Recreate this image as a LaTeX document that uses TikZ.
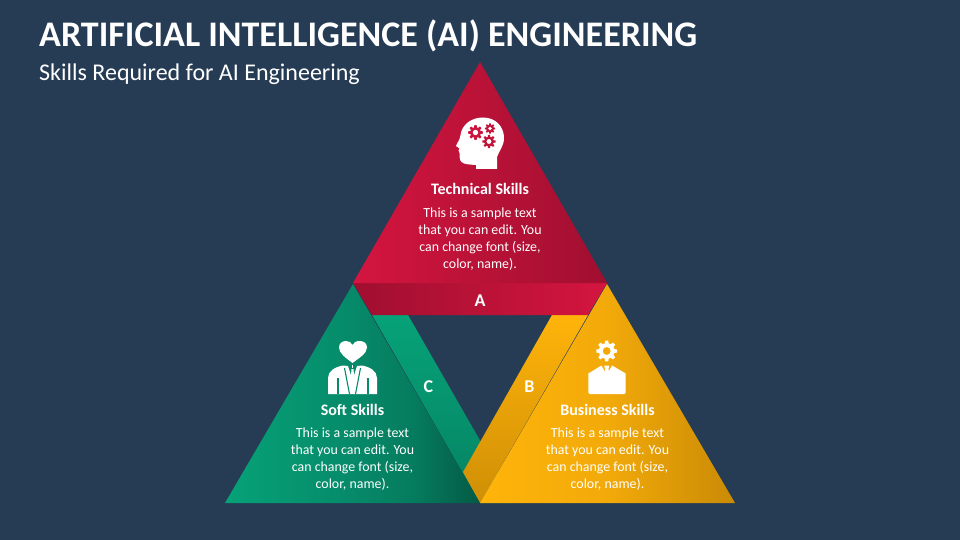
\documentclass[tikz,border=0pt]{standalone}
\usepackage{fontspec}
\setmainfont{Carlito}
\definecolor{bgnavy}{HTML}{263C55}
\definecolor{redhi}{HTML}{D4153F}
\definecolor{redlo}{HTML}{A00F30}
\definecolor{greenhi}{HTML}{06A278}
\definecolor{greenmid}{HTML}{068A69}
\definecolor{greenlo}{HTML}{045A45}
\definecolor{yelhi}{HTML}{FFB40A}
\definecolor{yelmid}{HTML}{F2AA0A}
\definecolor{yello}{HTML}{C98A05}
\pgfdeclarehorizontalshading{greentri}{100bp}{color(0bp)=(greenhi); color(25bp)=(greenhi); color(50bp)=(greenmid); color(62bp)=(greenmid!70!greenlo); color(75bp)=(greenlo); color(100bp)=(greenlo)}
\pgfdeclarehorizontalshading{yellowtri}{100bp}{color(0bp)=(yelhi); color(25bp)=(yelhi); color(50bp)=(yelmid); color(75bp)=(yello); color(100bp)=(yello)}
\tikzset{
  x=1pt,y=-1pt,
  titletext/.style={anchor=base west,inner sep=0pt,text=white,font=\fontsize{36}{40}\selectfont\bfseries},
  subtext/.style={anchor=base west,inner sep=0pt,text=white,font=\fontsize{24}{28}\selectfont},
  headtext/.style={inner sep=0pt,text=white,font=\fontsize{16}{18}\selectfont\bfseries},
  bodytext/.style={inner sep=0pt,text=white,align=center,font=\fontsize{13.9}{17}\selectfont},
  lettertext/.style={inner sep=0pt,text=white,font=\fontsize{18}{20}\selectfont\bfseries},
  gearicon/.pic={
    \fill[pic actions] (0,0) circle[radius=0.76];
    \foreach \a in {0,45,...,315}{
      \fill[pic actions,rotate=\a] (-0.2,-0.62) -- (-0.15,-1) -- (0.15,-1) -- (0.2,-0.62) -- cycle;
    }
  }
}
\begin{document}
\begin{tikzpicture}
\useasboundingbox (0,0) rectangle (960,540);
\fill[bgnavy] (0,0) rectangle (960,540);
% back strips
\path[top color=greenhi,bottom color=greenmid!85!greenlo] (372,315) -- (408,315) -- (516,503) -- (480,503) -- cycle;
\path[shading angle=30,top color=yelhi,bottom color=yello!85!yelmid] (552,315) -- (588,315) -- (480,503) -- (463,472) -- cycle;
% triangles
\path[shading=greentri] (353,284) -- (480,503) -- (225,503) -- cycle;
\path[shading=yellowtri] (607,284) -- (735,503) -- (480,503) -- cycle;
\path[left color=redlo,right color=redhi] (353,283) -- (607,283) -- (588,315) -- (372,315) -- cycle;
\path[left color=redhi,right color=redlo] (480,62) -- (607,283) -- (353,283) -- cycle;
% head icon
\fill[white] (497,169) -- (476,169) -- (476,165) .. controls (470,164.5) and (464,164.5) .. (461.5,162) .. controls (459,160) and (460,156) .. (459.5,153) -- (458.5,150.5) -- (459.5,148.5) -- (456,146) .. controls (457,143) and (460,140) .. (460.5,135) .. controls (462,124) and (472,117.5) .. (483,117.5) .. controls (496,117.5) and (504,127) .. (504,138) .. controls (504,146) and (499,151) .. (497,157) -- cycle;
\pic[fill=redhi!85!redlo,scale=7.4] at (475.5,132.5) {gearicon};
\pic[fill=redhi!70!redlo,scale=5.2] at (490,128.5) {gearicon};
\pic[fill=redhi!70!redlo,scale=6.6] at (489,141.5) {gearicon};
\fill[white] (475.5,132.5) circle[radius=2.7] (490,128.5) circle[radius=1.9] (489,141.5) circle[radius=2.4];
% soft skills icon
\fill[white] (352.5,363) .. controls (346,358) and (339,353.5) .. (339,347.5) .. controls (339,343) and (342.5,341) .. (346,341) .. controls (349,341) and (351.5,342.5) .. (352.5,345) .. controls (353.5,342.5) and (356,341) .. (359.5,341) .. controls (363.5,341) and (367,343) .. (367,347.5) .. controls (367,353.5) and (359,358) .. (352.5,363) -- cycle;
\fill[white] (328,394) -- (328,378) .. controls (328,371) and (335,367) .. (343,365.5) -- (348,366) -- (352.5,380) -- (357,366) -- (362,365.5) .. controls (370,367) and (377,371) .. (377,378) -- (377,394) -- cycle;
\fill[greenmid] (337.3,378) rectangle (338.9,394);
\fill[greenmid] (367.1,378) rectangle (368.7,394);
\draw[greenmid,line width=1.1pt] (344.5,368) -- (349.5,394) (360.5,368) -- (355.5,394);
\fill[white] (351.7,365) rectangle (353.3,367.5);
\fill[white] (351.5,369) -- (353.5,369) -- (355,387) -- (352.5,391) -- (350,387) -- cycle;
% business skills icon
\pic[fill=white,scale=10.4] at (606.7,351) {gearicon};
\fill[yelmid] (606.7,351) circle[radius=3.9];
\fill[white] (588.3,373.5) -- (601.5,365.5) -- (606.7,375) -- (612,365.5) -- (625.7,373.5) -- (625.7,392.5) -- (624.5,394) -- (589.5,394) -- (588.3,392.5) -- cycle;
\fill[white] (604.2,365.5) -- (609.2,365.5) -- (608.5,369) -- (609.5,376) -- (606.7,380) -- (604,376) -- (605,369) -- cycle;
% texts
\node[titletext] (title) at (39,47) {ARTIFICIAL INTELLIGENCE (AI) ENGINEERING};
\node[subtext] (subtitle) at (39,81) {Skills Required for AI Engineering};
\node[headtext] (techhead) at (480,188.5) {Technical Skills};
\node[bodytext] (techbody) at (480,238.8) {This is a sample text\\that you can edit. You\\can change font (size,\\color, name).};
\node[headtext] (softhead) at (352.5,409.5) {Soft Skills};
\node[bodytext] (softbody) at (352.5,458.8) {This is a sample text\\that you can edit. You\\can change font (size,\\color, name).};
\node[headtext] (bizhead) at (607.5,409.5) {Business Skills};
\node[bodytext] (bizbody) at (607.5,458.8) {This is a sample text\\that you can edit. You\\can change font (size,\\color, name).};
\node[lettertext] (letterA) at (480,300.8) {A};
\node[lettertext] (letterC) at (428.5,386.8) {C};
\node[lettertext] (letterB) at (529.5,386.8) {B};
\end{tikzpicture}
\end{document}
